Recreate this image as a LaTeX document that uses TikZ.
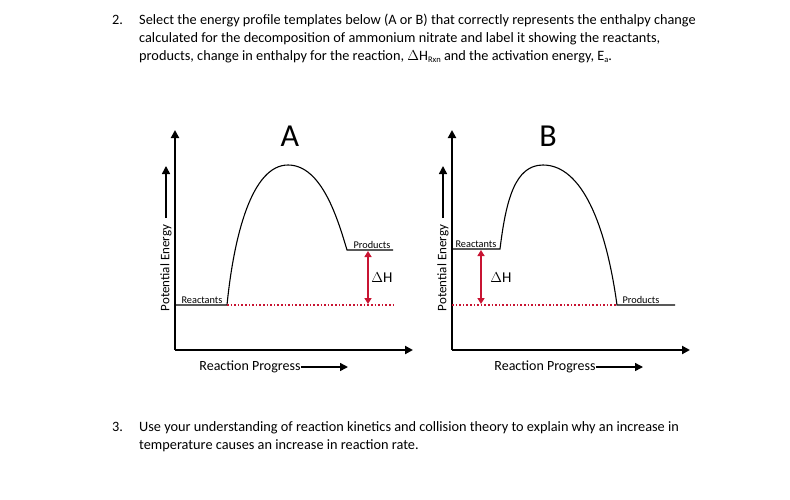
\documentclass[tikz,border=0pt]{standalone}
\usepackage{fontspec}
\setmainfont{Carlito}
\usetikzlibrary{arrows.meta}
\begin{document}
\begin{tikzpicture}[x=1pt,y=-1pt,
  txt/.style={anchor=base west,inner sep=0,font=\fontsize{14.3}{18}\selectfont},
  small/.style={inner sep=0.5pt,font=\fontsize{10.3}{11}\selectfont},
  axis/.style={line width=2pt,-{Triangle[length=8pt,width=8pt]}},
  curve/.style={line width=1.1pt},
  red/.style={draw={rgb,255:red,200;green,20;blue,50}},
  dh/.style={red,line width=1.8pt,{Triangle[length=6pt,width=7pt]}-{Triangle[length=6pt,width=7pt]}},
  dots/.style={red,line width=1.6pt,dotted},
  lbl/.style={inner sep=0,font=\fontsize{14}{15}\selectfont}]
\useasboundingbox (0,0) rectangle (790,499);
\newcommand{\sub}[1]{\raisebox{-0.35ex}{\fontsize{8.5}{8.5}\selectfont #1}}
% question text
\node[txt] (q2) at (112,24) {2.};
\node[txt] (l1) at (139,24) {Select the energy profile templates below (A or B) that correctly represents the enthalpy change};
\node[txt] (l2) at (139,42) {calculated for the decomposition of ammonium nitrate and label it showing the reactants,};
\node[txt] (l3) at (139,60) {products, change in enthalpy for the reaction, $\Delta$H\sub{Rxn} and the activation energy, E\sub{a}.};
\node[txt] (q3) at (112,431) {3.};
\node[txt] (l4) at (139,431) {Use your understanding of reaction kinetics and collision theory to explain why an increase in};
\node[txt] (l5) at (139,449) {temperature causes an increase in reaction rate.};
% ---------- A ----------
\coordinate (oA) at (175,350);
\coordinate (yA) at (175,130);
\coordinate (xA) at (413,350);
\draw[axis] (oA) -- (yA);
\draw[axis] (oA) -- (xA);
\node[font=\fontsize{32}{32}\selectfont,inner sep=0] (tA) at (290,136) {A};
\node[rotate=90,lbl,font=\fontsize{13}{14}\selectfont] (peA) at (166,268) {Potential Energy};
\coordinate (peA1) at (166,218); \coordinate (peA2) at (166,166);
\draw[axis,line width=1.5pt] (peA1) -- (peA2);
\node[lbl] (rpA) at (250,367) {Reaction Progress};
\coordinate (rpA1) at (rpA.east); \coordinate (rpA2) at (348,367);
\draw[axis,line width=1.5pt] (rpA1) -- (rpA2);
\coordinate (rA0) at (175,305); \coordinate (rA1) at (227,305);
\coordinate (pA0) at (347,250); \coordinate (pA1) at (393,250);
\draw[curve] (rA0) -- (rA1) .. controls (234,235) and (252,165) .. (288,165)
  .. controls (322,165) and (338,220) .. (pA0) -- (pA1);
\node[small,anchor=south] (rlA) at (202,304) {Reactants};
\node[small,anchor=south] (plA) at (372,249) {Products};
\coordinate (dA1) at (395,305);
\draw[dots] (rA1) -- (dA1);
\coordinate (aA1) at (368,251); \coordinate (aA2) at (368,304);
\draw[dh] (aA1) -- (aA2);
\node[lbl,font=\fontsize{15}{15}\selectfont] (dhA) at (382,278) {$\Delta$H};
% ---------- B ----------
\coordinate (oB) at (452,350);
\coordinate (yB) at (452,130);
\coordinate (xB) at (690,350);
\draw[axis] (oB) -- (yB);
\draw[axis] (oB) -- (xB);
\node[font=\fontsize{32}{32}\selectfont,inner sep=0] (tB) at (548,136) {B};
\node[rotate=90,lbl,font=\fontsize{13}{14}\selectfont] (peB) at (443,268) {Potential Energy};
\coordinate (peB1) at (443,218); \coordinate (peB2) at (443,166);
\draw[axis,line width=1.5pt] (peB1) -- (peB2);
\node[lbl] (rpB) at (545,367) {Reaction Progress};
\coordinate (rpB1) at (rpB.east); \coordinate (rpB2) at (643,367);
\draw[axis,line width=1.5pt] (rpB1) -- (rpB2);
\coordinate (rB0) at (452,249); \coordinate (rB1) at (500,249);
\coordinate (pB0) at (617,305); \coordinate (pB1) at (675,305);
\draw[curve] (rB0) -- (rB1) .. controls (506,200) and (515,165) .. (543,165)
  .. controls (582,165) and (606,225) .. (pB0) -- (pB1);
\node[small,anchor=south] (rlB) at (476,248) {Reactants};
\node[small,anchor=south] (plB) at (641,304) {Products};
\coordinate (dB0) at (452,305);
\draw[dots] (dB0) -- (pB0);
\coordinate (aB1) at (481,250); \coordinate (aB2) at (481,304);
\draw[dh] (aB1) -- (aB2);
\node[lbl,font=\fontsize{15}{15}\selectfont] (dhB) at (501,278) {$\Delta$H};
\end{tikzpicture}
\end{document}
